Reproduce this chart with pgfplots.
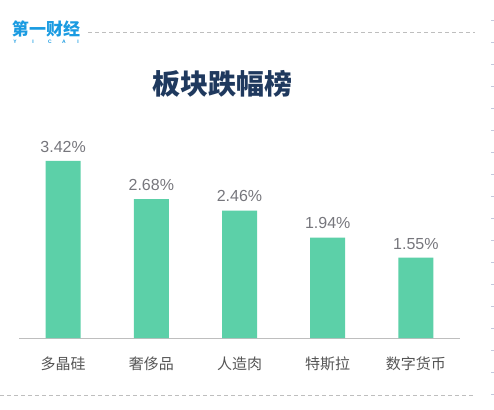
\documentclass[border=0pt]{standalone}
\usepackage{pgfplots}
\pgfplotsset{compat=1.18}
\usepackage{fontspec}
\newfontfamily\cjk{Noto Sans CJK SC}
\newfontfamily\arial{Liberation Sans}
\definecolor{bargreen}{RGB}{92,208,168}
\definecolor{titlenavy}{RGB}{31,57,94}
\definecolor{logoblue}{RGB}{26,155,225}
\definecolor{labgray}{RGB}{118,118,124}
\definecolor{catgray}{RGB}{85,85,85}
\definecolor{linegray}{RGB}{190,190,190}
\definecolor{tickblue}{RGB}{195,200,220}
\begin{document}
\begin{tikzpicture}[x=1pt,y=1pt]
\path[use as bounding box] (0,0) rectangle (494,409);
% decorations
\draw[linegray,line width=0.8pt,dash pattern=on 4pt off 3pt] (88,377) -- (475,377);
\draw[linegray,line width=0.8pt,dash pattern=on 4pt off 3pt] (0,14) -- (475,14);
\foreach \yy in {20,42,64,86,108,130,152,174,196,218,240,262,284,306,328,350,372,394}
  \draw[tickblue,line width=0.8pt] (491,409-\yy) -- (494,409-\yy);
% logo
\node[logoblue,font=\cjk\bfseries\fontsize{17}{17}\selectfont,inner sep=0] at (46,380) {第一财经};
\foreach \xx/\ll in {15/Y,33/I,50/C,64/A,78/I}
  \node[logoblue,font=\arial\bfseries\fontsize{5}{5}\selectfont,inner sep=0] at (\xx,367) {\ll};
% title
\node[titlenavy,font=\cjk\bfseries\fontsize{28}{28}\selectfont,inner sep=0] at (222,325) {板块跌幅榜};
\begin{axis}[
  at={(19pt,71pt)}, anchor=south west,
  scale only axis, width=441pt, height=207.2pt,
  xmin=-0.5, xmax=4.5, ymin=0, ymax=4,
  axis x line*=bottom, axis y line=none,
  x axis line style={linegray,line width=1pt,-},
  xtick=data,
  xticklabels={多晶硅,奢侈品,人造肉,特斯拉,数字货币},
  major tick length=0pt,
  x tick label style={font=\cjk\fontsize{15}{15}\selectfont,text=catgray,yshift=-15pt},
  ybar, bar width=35pt,
  point meta=explicit symbolic,
  nodes near coords,
  every node near coord/.append style={font=\arial\fontsize{16}{16}\selectfont,text=labgray,yshift=5pt},
  clip=false,
]
\addplot[fill=bargreen,draw=none] coordinates {
  (0,3.42) [3.42\%]
  (1,2.68) [2.68\%]
  (2,2.46) [2.46\%]
  (3,1.94) [1.94\%]
  (4,1.55) [1.55\%]
};
\end{axis}
\end{tikzpicture}
\end{document}
